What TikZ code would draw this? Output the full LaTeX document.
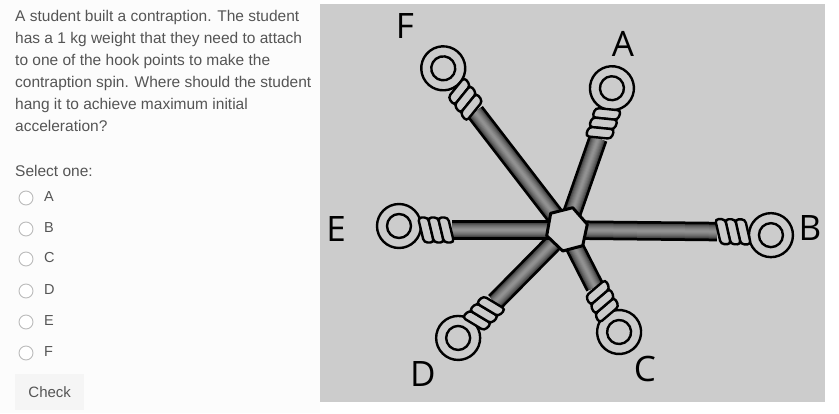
\documentclass[tikz,border=0pt]{standalone}
\usepackage{fontspec}
\setmainfont{Liberation Sans}
\newfontfamily\labelfont{Open Sans}
\definecolor{panel}{HTML}{CCCCCC}
\definecolor{page}{HTML}{FCFCFC}
\definecolor{txt}{HTML}{555555}
\definecolor{radio}{HTML}{BBBBBB}
\definecolor{btn}{HTML}{F5F5F5}
\tikzset{
  qtext/.style={text=txt,font=\fontsize{15.5}{22}\selectfont,align=left,inner sep=0pt},
  optlabel/.style={text=txt,font=\fontsize{14.5}{18}\selectfont,inner sep=0pt},
  radiobtn/.style={circle,draw=radio,fill=white,line width=0.9pt,minimum size=14pt,inner sep=0pt},
  picklabel/.style={text=black,font=\labelfont\fontsize{35}{40}\selectfont,inner sep=0pt},
  ringline/.style={draw=black,line width=2.4pt,fill=panel},
  checkbtn/.style={fill=btn,text=txt,font=\fontsize{15}{18}\selectfont,minimum width=69pt,minimum height=36pt,inner sep=0pt},
}
% #1 angle, #2 rod length, #3 eye distance past rod, #4 eye side offset
\newcommand{\spoke}[4]{%
  \begin{scope}[shift={(hub)},rotate=-#1]
    \draw[line width=19.5pt,black] (0,0) -- (#2,0);
    \foreach \w/\g in {14/72,12/65,10/59,8/54,6/50,4/46,2/43}{
      \draw[line width=\w pt,black!\g] (0,0) -- (#2,0);
    }
    \path[ringline] (#2+#3,#4) circle (22);
    \path[ringline] (#2+#3,#4) circle (12);
    \foreach \c in {18,8,-2}{
      \path[ringline,rounded corners=3.5pt]
        (#2+\c,-12.5) -- (#2+\c+10,-12.5) -- (#2+\c+16,12.5) -- (#2+\c+6,12.5) -- cycle;
    }
  \end{scope}
}
\begin{document}
\begin{tikzpicture}[x=1pt,y=-1pt]
\useasboundingbox (0,0) rectangle (839,413);
\fill[white] (0,0) rectangle (839,413);
\fill[page] (0,0) rectangle (320,413);
\fill[panel] (320,4) rectangle (825,402);
\coordinate (hub) at (566,230);
\spoke{-70.7}{97}{52}{-3.5}
\spoke{0.6}{151}{54}{3}
\spoke{63}{64}{51}{-1}
\spoke{134.6}{101}{51.6}{1}
\spoke{180}{114}{53}{4}
\spoke{232.4}{149}{54}{1.4}
\draw[draw=black,line width=3pt,fill=panel,line join=round]
  (550.7,213.3) -- (572.7,207.7) -- (587.3,224.3) -- (582.7,245.7) -- (562.7,251) -- (546.7,235.7) -- cycle;
\node[picklabel] (lA) at (623,44) {A};
\node[picklabel] (lB) at (810,228) {B};
\node[picklabel] (lC) at (645,369) {C};
\node[picklabel] (lD) at (423,374) {D};
\node[picklabel] (lE) at (336,229) {E};
\node[picklabel] (lF) at (405,26) {F};
\node[qtext,anchor=north west] (question) at (15,10) {A student built a contraption. The student\\has a 1 kg weight that they need to attach\\to one of the hook points to make the\\contraption spin. Where should the student\\hang it to achieve maximum initial\\acceleration?};
\node[qtext,anchor=west] (select) at (15,171) {Select one:};
\foreach \t/\y in {A/198,B/229,C/259,D/291,E/322,F/353}{
  \node[radiobtn] (r\t) at (26,\y) {};
  \node[optlabel,anchor=west] (o\t) at (44,\y-1) {\t};
}
\node[checkbtn,anchor=north west] (check) at (15,374) {Check};
\end{tikzpicture}
\end{document}
